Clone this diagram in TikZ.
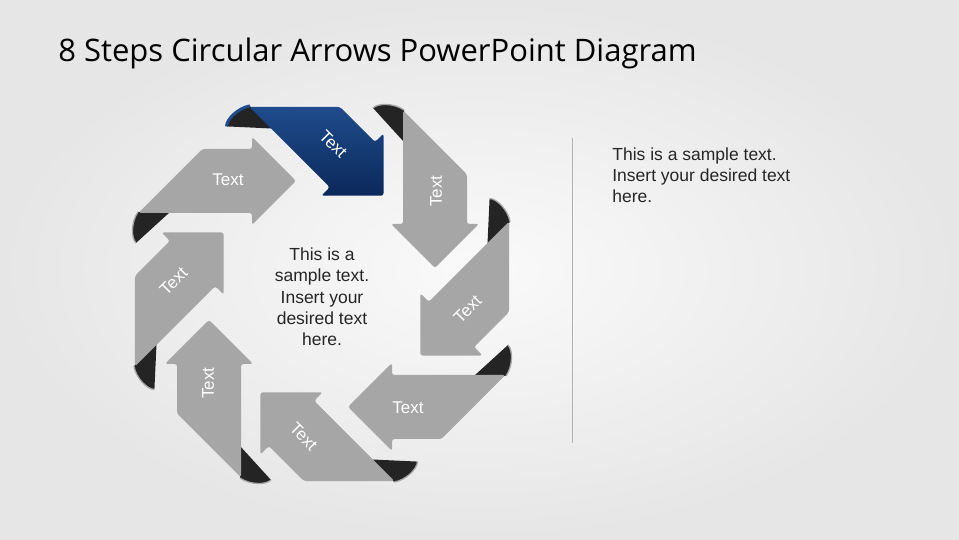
\documentclass[tikz,border=0pt]{standalone}
\usepackage{fontspec}
\setmainfont{Liberation Sans}
\newfontfamily\titlefont{Open Sans}
\usetikzlibrary{positioning,calc}
\tikzset{every picture/.style={line width=0.75pt}}
\definecolor{arrowgray}{RGB}{166,166,166}
\definecolor{curldark}{RGB}{36,36,36}
\definecolor{bluetop}{RGB}{30,76,140}
\definecolor{bluebot}{RGB}{11,40,90}
\definecolor{inktext}{RGB}{38,38,38}
\definecolor{bgin}{RGB}{250,250,250}
\definecolor{bgout}{RGB}{230,230,230}
\tikzset{
  steparrow/.style={fill=arrowgray, rounded corners=2.5pt},
  bluearrow/.style={top color=bluetop, bottom color=bluebot, rounded corners=2.5pt},
  stepcurl/.style={fill=curldark},
  steprim/.style={draw=arrowgray, line width=1.3pt},
  bluerim/.style={draw=bluetop, line width=3pt},
  steplabel/.style={text=white, inner sep=0pt, font=\fontsize{17}{18}\selectfont},
  bodytext/.style={text=inktext, inner sep=0pt, font=\fontsize{17.5}{21.3}\selectfont}
}

\begin{document}
\begin{tikzpicture}[x=1pt,y=1pt]
    % 背景
    \shade[inner color=bgin, outer color=bgout] (0,0) rectangle (959,540);
    \useasboundingbox (0,0) rectangle (959,540);
    % 标题
    \node[anchor=base west, inner sep=0pt, text=black, font=\titlefont\fontsize{31}{36}\selectfont] (title) at (58,478) {8 Steps Circular Arrows PowerPoint Diagram};
    % 八个箭头（顺时针）
    \foreach \k/\textrot/\textpos/\look/\rim in {0/0/-94/steparrow/steprim, 1/-45/-98/bluearrow/bluerim, 2/90/-103/steparrow/steprim, 3/45/-92/steparrow/steprim, 4/0/-86/steparrow/steprim, 5/-45/-88/steparrow/steprim, 6/90/-89/steparrow/steprim, 7/45/-96/steparrow/steprim} {
      \begin{scope}[shift={(322,246)}, rotate=-45*\k]
        % 卷边
        \fill[stepcurl] (-152,82) -- (-186,51) .. controls (-191,56) and (-191,72) .. (-184,82) -- cycle;
        \draw[\rim] (-186,51) .. controls (-191,56) and (-191,72) .. (-184,82);
        % 箭身
        \path[\look] (-183.5,81) -- (-119.5,145) -- (-70,145) -- (-70,157) -- (-26,113) -- (-70,69) -- (-70,81) -- cycle;
        \node[steplabel, rotate=\textrot] (label\k) at (\textpos,114) {Text};
      \end{scope}
    }
    % 中间文字
    \node[bodytext, align=center] (centertext) at (322,243) {This is a\\sample text.\\Insert your\\desired text\\here.};
    % 分隔线
    \coordinate (divtop) at (572,402);
    \coordinate (divbot) at (572,97);
    \draw[draw=black!30, line width=1pt] (divtop) -- (divbot);
    % 右侧文字
    \node[bodytext, align=left, anchor=north west] (sidetext) at (612,393) {This is a sample text.\\Insert your desired text\\here.};
\end{tikzpicture}
\end{document}
